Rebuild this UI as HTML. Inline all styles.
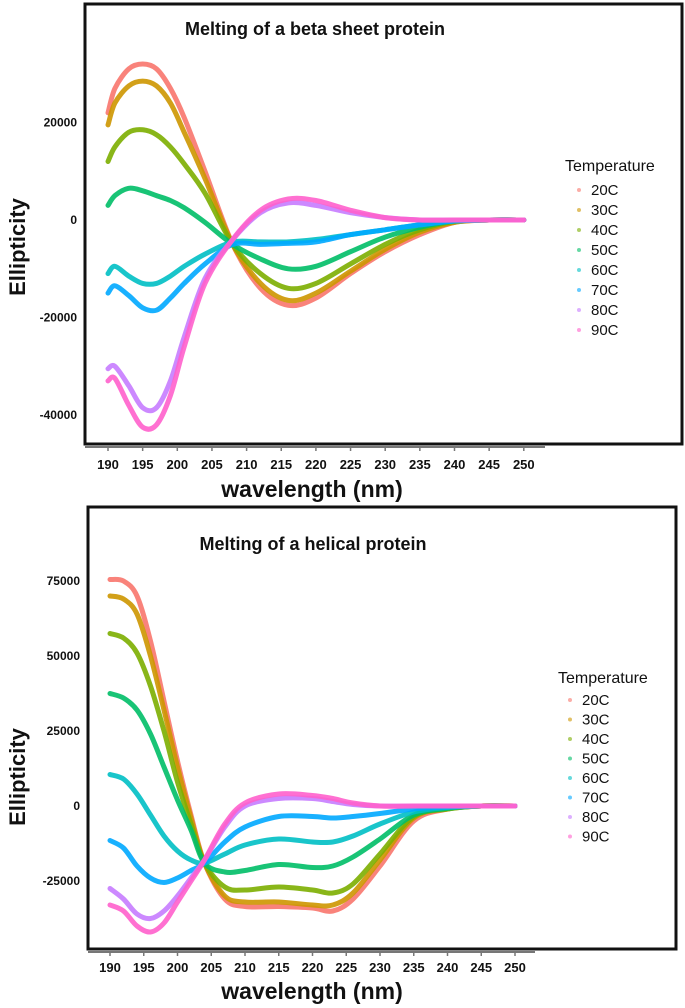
<!DOCTYPE html>
<html><head><meta charset="utf-8">
<style>
html,body{margin:0;padding:0;background:#fff;}
svg{display:block;font-family:"Liberation Sans",Arial,sans-serif;}
</style></head>
<body>
<svg id="chart" width="685" height="1008" viewBox="0 0 685 1008" xmlns="http://www.w3.org/2000/svg">
<rect x="0" y="0" width="685" height="1008" fill="#fff"/>
<g id="top"></g>
<g id="bot"></g>
</svg>
<script>
const labels = ["20C","30C","40C","50C","60C","70C","80C","90C"];
const colors = ["#F8766D","#CD9600","#7CAE00","#00BE67","#00BFC4","#00A9FF","#C77CFF","#FF61CC"];
const xTicks = [190,195,200,205,210,215,220,225,230,235,240,245,250];

const betaWl = [190,191,193,195,197,199,201,204,208,212,216,220,225,230,235,240,245,250];
const beta20 = [22,27,31,32,31,27,21,10,-5,-14,-17.5,-16,-11,-6.5,-3,-0.5,0,0];
const beta30 = [19.5,24,27.5,28.5,27.5,24,18,8.5,-5,-13,-16.5,-15,-10.5,-6,-2.5,-0.5,0,0];
const beta40 = [12,15,18,18.5,17.5,15,11.5,5.5,-5,-11,-14,-13,-9,-5,-2,-0.3,0,0];
const beta50 = [3,5,6.5,6,5,4,2.5,-0.5,-5,-8,-10,-9.5,-6.5,-3.5,-1.5,-0.2,0,0];
const beta60 = [-11,-9.5,-11.5,-13,-13,-11.5,-9.5,-7,-4.5,-4.5,-4.5,-4,-3,-2,-1,-0.2,0,0];
const beta70 = [-15,-13.5,-15.5,-18,-18.5,-16,-13,-9,-5,-5,-4.8,-4.5,-3,-2,-1,-0.2,0,0];
const beta80 = [-30.5,-30,-34,-38.5,-38.5,-33,-24,-12,-4,1.5,3.5,3,1.5,0.5,0,0,0,0];
const beta90 = [-33,-32.5,-38,-42.5,-42,-36,-26,-13,-4,2,4.3,4,2,0.5,0,0,0,0];
const betaYTicks = [20000,0,-20000,-40000];

const helWl = [190,192,194,196,198,200,202,204,207,210,215,220,223,226,230,235,240,245,250];
const hel20 = [75.5,75,70,55,35,15,-3,-19,-31,-33.5,-33.5,-34,-35,-31,-20,-5,-1,0,0];
const hel30 = [70,69,64,50,32,13,-4,-19,-30,-32,-32,-33,-33,-29,-18,-4,-1,0,0];
const hel40 = [57.5,56,51,40,25,8,-6,-19,-27,-28,-27,-28,-29,-26,-16,-3.5,-1,0,0];
const hel50 = [37.5,36,32,24,13,2,-8,-19,-22,-21.5,-19.5,-20.5,-20,-17,-11,-3,-0.8,0,0];
const hel60 = [10.5,9,4,-3,-10,-15,-18,-19,-16,-13,-11,-12,-12,-10,-6,-2,-0.5,0,0];
const hel70 = [-11.5,-14,-20,-24,-25.5,-24,-21.5,-19,-12,-7,-3.5,-3.5,-4,-3.5,-2.5,-1,-0.3,0,0];
const hel80 = [-27.5,-31,-36,-37.5,-35,-30,-24,-18,-7,0,2.5,2.5,1.5,0.5,0,0,0,0,0];
const hel90 = [-33,-35,-40,-42,-39,-32,-25,-18,-6,1,4,3.5,2.5,1,0,0,0,0,0];
const helYTicks = [75000,50000,25000,0,-25000];

const NS="http://www.w3.org/2000/svg";
function mk(parent,tag,attrs,text){const e=document.createElementNS(NS,tag);for(const k in attrs)e.setAttribute(k,attrs[k]);if(text!==undefined)e.textContent=text;parent.appendChild(e);return e;}
function smooth(pts){let d="M"+pts[0][0].toFixed(1)+","+pts[0][1].toFixed(1);
for(let i=0;i<pts.length-1;i++){const p0=pts[Math.max(0,i-1)],p1=pts[i],p2=pts[i+1],p3=pts[Math.min(pts.length-1,i+2)];
const c1x=p1[0]+(p2[0]-p0[0])/6,c1y=p1[1]+(p2[1]-p0[1])/6,c2x=p2[0]-(p3[0]-p1[0])/6,c2y=p2[1]-(p3[1]-p1[1])/6;
d+=" C"+c1x.toFixed(1)+","+c1y.toFixed(1)+" "+c2x.toFixed(1)+","+c2y.toFixed(1)+" "+p2[0].toFixed(1)+","+p2[1].toFixed(1);}return d;}

function draw(g,cfg){
  const xs=v=>cfg.x0+(v-190)*cfg.xk;
  const ys=v=>cfg.y0-v*cfg.yk;
  const box=mk(g,"rect",{x:cfg.bx,y:cfg.by,width:cfg.bw,height:cfg.bh,fill:"none",stroke:"#111","stroke-width":3});
  
  
  const t=mk(g,"text",{x:cfg.tx,y:cfg.ty,"text-anchor":"middle","font-size":18,"font-weight":"bold",fill:"#111"},cfg.title);
  
  
  cfg.yTicks.forEach(v=>{const e=mk(g,"text",{x:cfg.bx-8,y:ys(v/1000)+4,"text-anchor":"end","font-size":12,"font-weight":"bold",fill:"#111"},String(v));
    
    });
  const ax=mk(g,"line",{x1:cfg.bx,x2:cfg.axEnd,y1:cfg.by+cfg.bh+3,y2:cfg.by+cfg.bh+3,stroke:"#777","stroke-width":2});
  
  
  xTicks.forEach(v=>{const l=mk(g,"line",{x1:xs(v),x2:xs(v),y1:cfg.by+cfg.bh+3,y2:cfg.by+cfg.bh+7,stroke:"#777","stroke-width":1.5});
    
    
    const e=mk(g,"text",{x:xs(v),y:cfg.tickY,"text-anchor":"middle","font-size":13,"font-weight":"bold",fill:"#111"},String(v));
    
    });
  const xl=mk(g,"text",{x:cfg.xlx,y:cfg.xly,"text-anchor":"middle","font-size":23,"font-weight":"bold",fill:"#111"},"wavelength (nm)");
  
  
  const yl=mk(g,"text",{x:0,y:0,"text-anchor":"middle","font-size":22,"font-weight":"bold",fill:"#111",transform:"translate("+cfg.ylx+","+cfg.yly+") rotate(-90)"},"Ellipticity");
  
  
  cfg.series.forEach((s,i)=>{const pts=cfg.wl.map((w,j)=>[xs(w),ys(s[j])]);
    const p=mk(g,"path",{d:smooth(pts),fill:"none",stroke:colors[i],"stroke-width":5,"stroke-linecap":"round","stroke-linejoin":"round","stroke-opacity":0.9});
    
    });
  const lt=mk(g,"text",{x:cfg.lx,y:cfg.ly,"font-size":16,fill:"#111"},"Temperature");
  
  
  labels.forEach((lab,i)=>{const y=cfg.ly+cfg.lfirst+i*cfg.lstep;
    const c=mk(g,"circle",{cx:cfg.ldot,cy:y-5,r:2,fill:colors[i],opacity:0.6});
    
    
    const e=mk(g,"text",{x:cfg.ldot+12,y:y,"font-size":15,fill:"#111"},lab);
    
    });
}

draw(document.getElementById("top"),{x0:108,xk:6.93,y0:220,yk:4.875,bx:85,by:4,bw:597,bh:440,axEnd:545,
  title:"Melting of a beta sheet protein",tx:315,ty:35,tickY:469,xlx:312,xly:497,ylx:25,yly:247,
  yTicks:betaYTicks,wl:betaWl,series:[beta20,beta30,beta40,beta50,beta60,beta70,beta80,beta90],
  lx:565,ly:171,lfirst:24,lstep:20,ldot:579});
draw(document.getElementById("bot"),{x0:110,xk:6.75,y0:806,yk:3,bx:88,by:507,bw:588,bh:442,axEnd:535,
  title:"Melting of a helical protein",tx:313,ty:550,tickY:972,xlx:312,xly:999,ylx:25,yly:777,
  yTicks:helYTicks,wl:helWl,series:[hel20,hel30,hel40,hel50,hel60,hel70,hel80,hel90],
  lx:558,ly:683,lfirst:22,lstep:19.5,ldot:570});
</script>
</body></html>
